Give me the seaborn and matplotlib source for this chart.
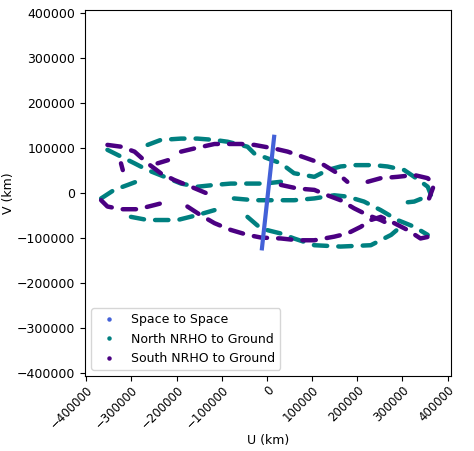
import numpy as np
import matplotlib
matplotlib.use("Agg")
import matplotlib.pyplot as plt
import seaborn as sns
from matplotlib.lines import Line2D

# tracks in thousands of km
space_u = [16, -11]
space_v = [125, -123]

north_tracks = [
    ([-367, -338, -308, -279], [-12, 7, 18, 29]),
    ([-301, -264, -198, -154, -116], [-53, -60, -60, -49, -38]),
    ([-264, -235, -190, -154, -116, -87, -43, -28, 31, 60, 105, 134, 163, 193, 237, 267, 304, 326, 356, 363, 326, 289],
     [107, 118, 121, 121, 118, 114, 103, 88, 66, 44, 36, 51, 59, 62, 62, 59, 51, 36, 14, -4, -19, -23]),
    ([-353, -323, -293, -264, -219, -190, -154, -116, -80, -43, -6, 31],
     [96, 81, 66, 51, 33, 21, 14, 18, 21, 21, 21, 25]),
    ([-73, -28, 16, 60, 105, 149, 178, 215, 252, 289, 326, 356],
     [-12, -16, -16, -16, -12, -5, -8, -19, -38, -60, -75, -93]),
    ([-43, -13, 31, 60, 105, 163, 230, 275, 296], [-53, -79, -90, -101, -116, -119, -116, -93, -75]),
]

south_tracks = [
    ([-353, -323, -293, -264, -235, -205, -168, -116], [107, 103, 92, 66, 44, 29, 14, -8]),
    ([-190, -161, -116, -57, -28, 16, 46, 89, 120, 156, 178], [92, 99, 109, 109, 107, 99, 92, 77, 66, 44, 25]),
    ([-367, -353, -323, -286, -250, -219], [-16, -30, -36, -36, -27, -19]),
    ([-176, -147, -116, -80, -43, -13, 31, 68, 105, 149, 178, 208, 230, 252, 282, 311, 340, 359],
     [-30, -49, -67, -82, -93, -99, -101, -105, -105, -97, -90, -75, -60, -53, -67, -82, -101, -97]),
    ([223, 252, 289, 326, 356, 370, 359], [25, 33, 36, 40, 33, 18, -12]),
    ([31, 68, 105, 134, 163, 193, 223, 252, 282], [18, 10, 7, -5, -16, -34, -49, -60, -75]),
    ([-242, -219], [66, 73]),
    ([-319, -323], [51, 66]),
]

c_space = "#4361d8"
c_north = "#008080"
c_south = "#4b0082"

fig = plt.figure(figsize=(4.74, 4.51), dpi=100)
ax = fig.add_axes([0.179, 0.166, 0.772, 0.812])

for u, v in north_tracks:
    ax.plot(np.array(u) * 1000, np.array(v) * 1000, color=c_north, lw=3.2,
            dashes=(3, 2.5), dash_capstyle="round")
for u, v in south_tracks:
    ax.plot(np.array(u) * 1000, np.array(v) * 1000, color=c_south, lw=3.2,
            dashes=(3, 2.5), dash_capstyle="round")
sns.lineplot(x=np.array(space_u) * 1000, y=np.array(space_v) * 1000, color=c_space,
             lw=3, ax=ax, sort=False)

ax.set_xlim(-403000, 407000)
ax.set_ylim(-407000, 407000)
ax.set_xticks(np.arange(-400000, 400001, 100000))
ax.set_yticks(np.arange(-400000, 400001, 100000))
ax.tick_params(axis="y", labelsize=9)
ax.tick_params(axis="x", labelsize=8.5, pad=2)
plt.setp(ax.get_xticklabels(), rotation=45, ha="right", rotation_mode="anchor")
ax.set_xlabel("U (km)", fontsize=9, labelpad=2)
ax.set_ylabel("V (km)", fontsize=9, labelpad=1)

handles = [Line2D([], [], ls="", marker="o", ms=2.2, color=c) for c in (c_space, c_north, c_south)]
ax.legend(handles, ["Space to Space", "North NRHO to Ground", "South NRHO to Ground"],
          loc="lower left", fontsize=9, handletextpad=0.8)

fig.savefig("out.png", dpi=100)
